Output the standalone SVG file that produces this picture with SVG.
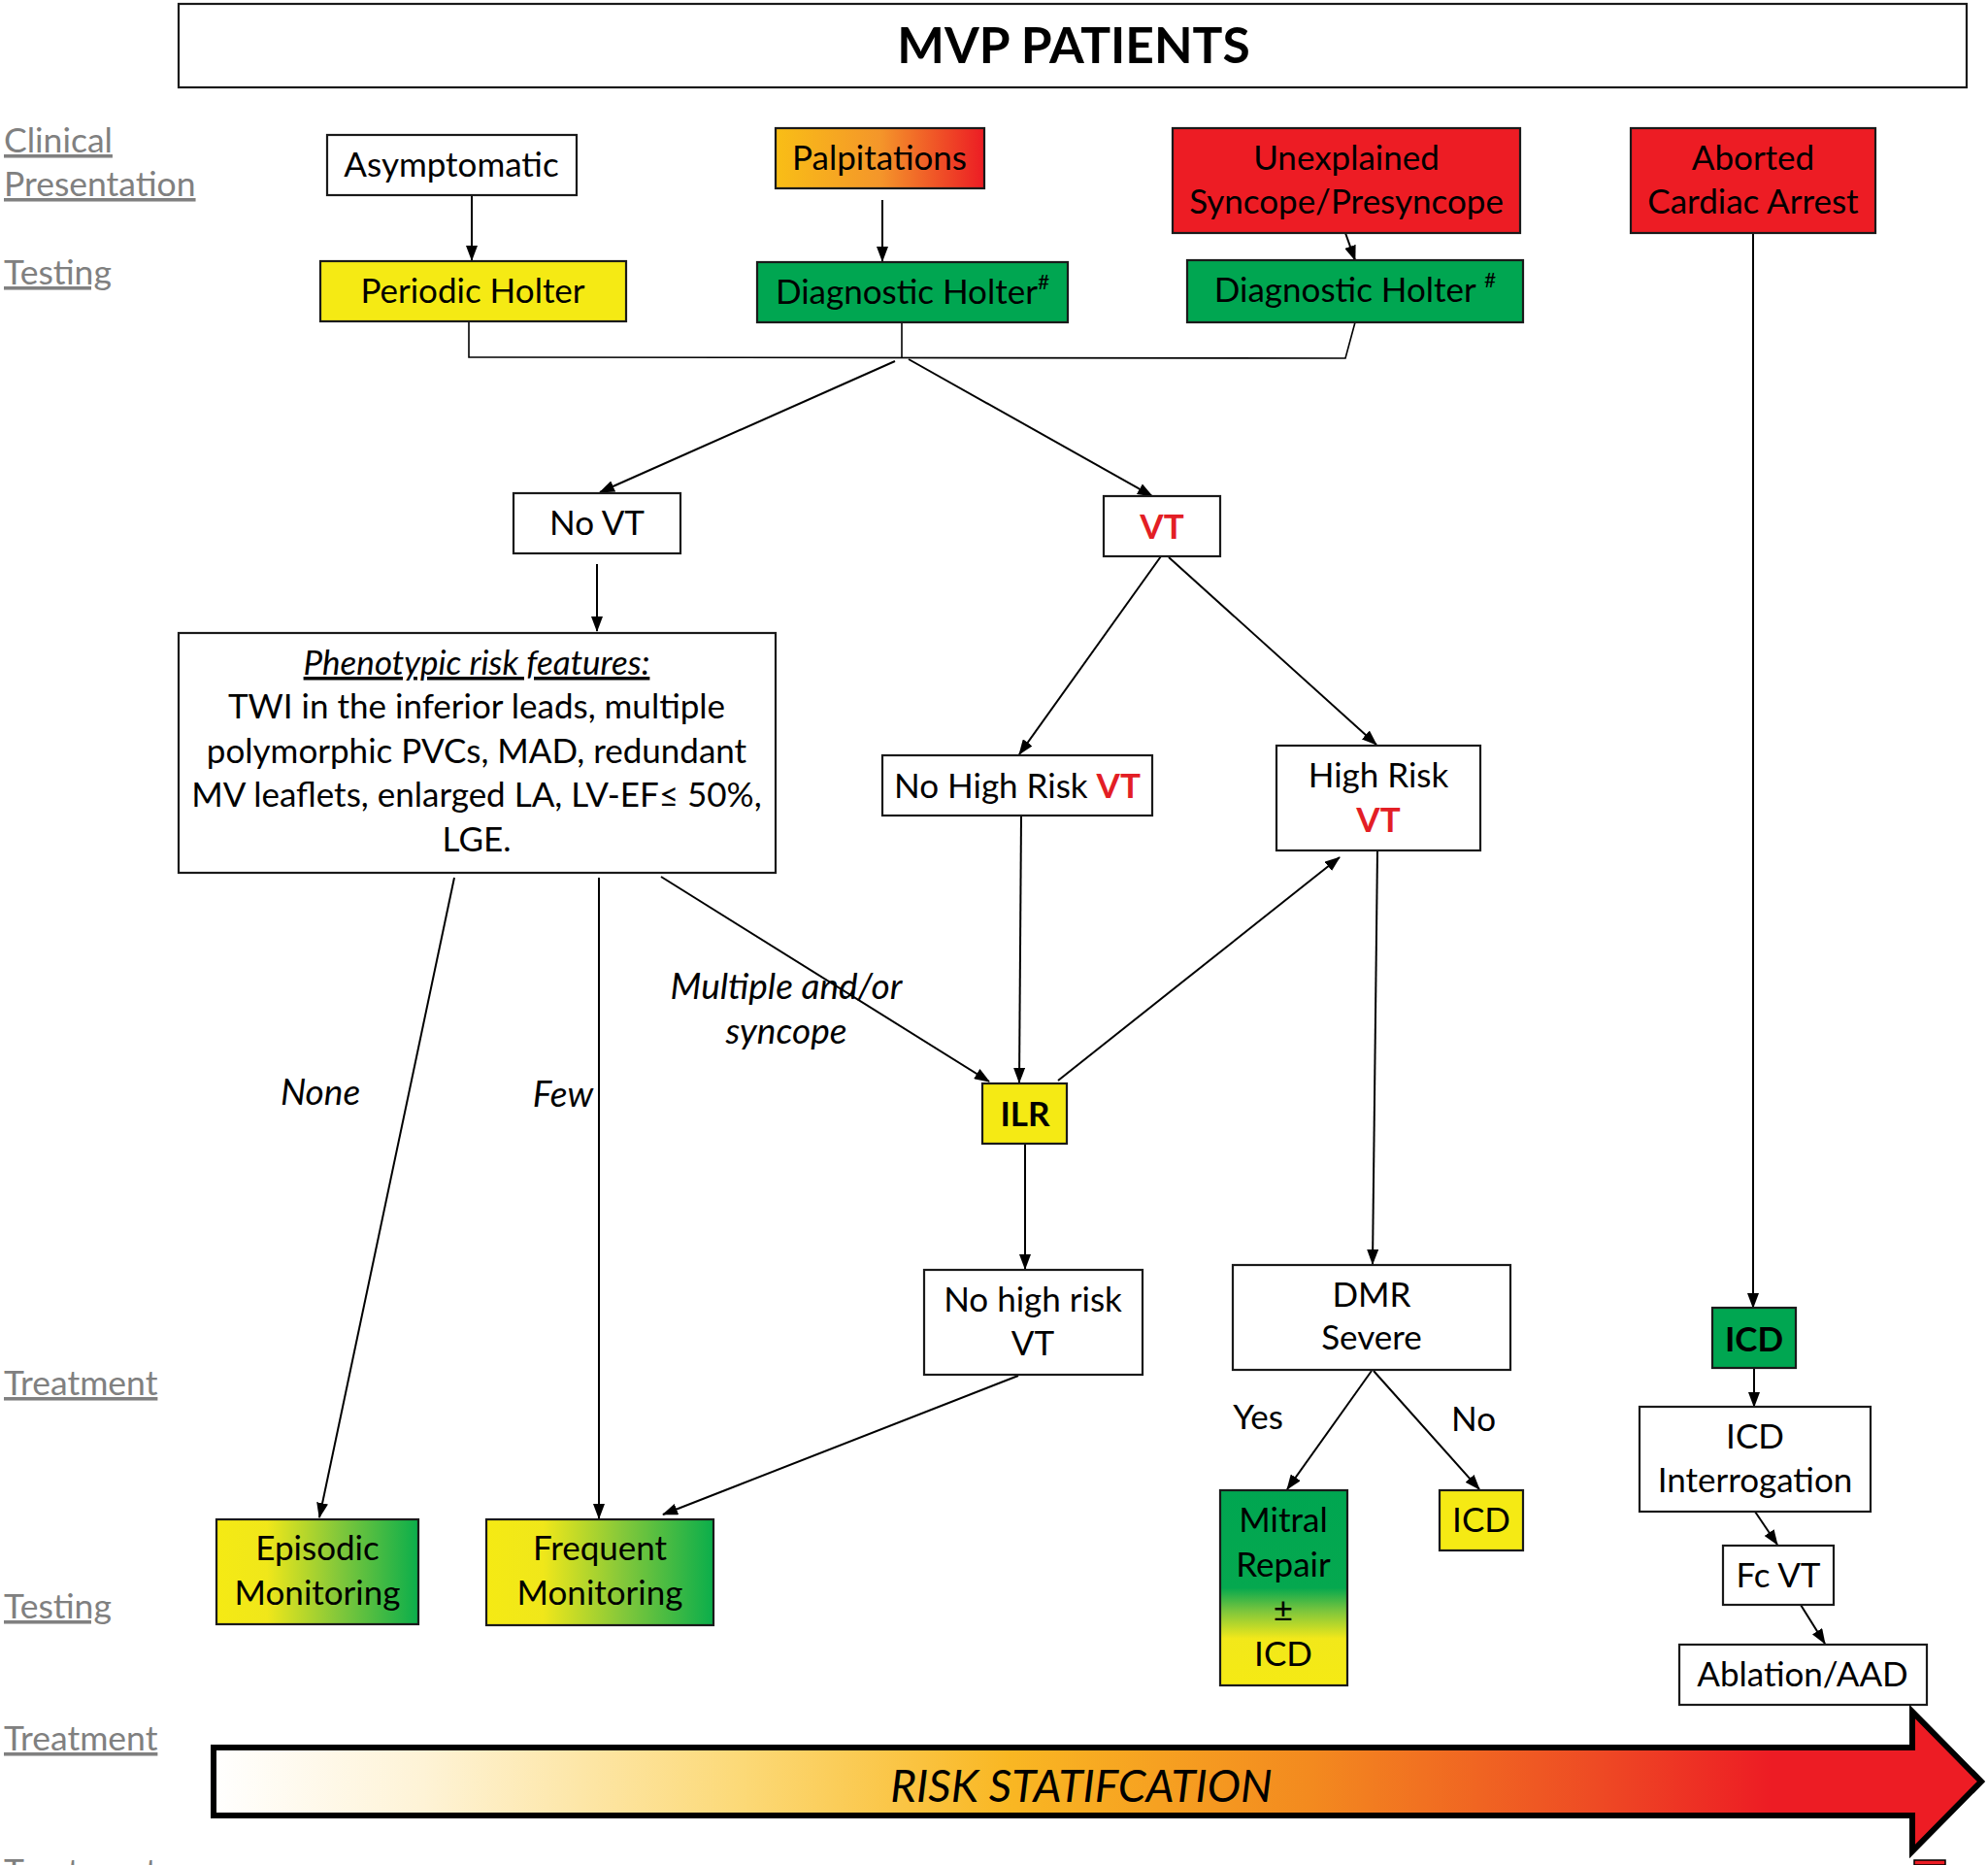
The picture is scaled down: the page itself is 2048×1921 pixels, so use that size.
<svg xmlns="http://www.w3.org/2000/svg" width="2048" height="1921" viewBox="0 0 2048 1921">
<style>
text{font-family:Lato,"Open Sans","Liberation Sans",sans-serif;fill:#000}
.n{font-size:35px;text-anchor:middle}
.el{font-size:37px;text-anchor:middle;font-style:italic}
.b{font-weight:bold}
.r{fill:#E31E25}
.it{font-style:italic}
.lab{font-size:35.5px;fill:#808080;text-decoration:underline}
.box{stroke:#1a1a1a;stroke-width:2.2}
.w{fill:#fff}
.y{fill:#F5EA14}
.g{fill:#00A651}
.red{fill:#ED1C24}
.c line,.c polyline{stroke:#000;stroke-width:2;fill:none}
.c .a{marker-end:url(#ah)}
</style>
<defs>
<marker id="ah" markerUnits="userSpaceOnUse" markerWidth="16" markerHeight="12" refX="15" refY="6" orient="auto">
<path d="M0,0 L16,6 L0,12 z" fill="#000"/>
</marker>
<linearGradient id="gPalp" x1="0" y1="0" x2="1" y2="0">
<stop offset="0" stop-color="#F9BE16"/><stop offset="0.5" stop-color="#F4962A"/><stop offset="1" stop-color="#EC1C24"/>
</linearGradient>
<linearGradient id="gMon" x1="0" y1="0" x2="1" y2="0">
<stop offset="0" stop-color="#F5EA14"/><stop offset="0.25" stop-color="#F0E71A"/><stop offset="0.6" stop-color="#84C83A"/><stop offset="1" stop-color="#0BAE4B"/>
</linearGradient>
<linearGradient id="gMit" x1="0" y1="0" x2="0" y2="1">
<stop offset="0" stop-color="#00A651"/><stop offset="0.5" stop-color="#05A84F"/><stop offset="0.62" stop-color="#7DC63C"/><stop offset="0.76" stop-color="#F2E81A"/><stop offset="1" stop-color="#F5EA14"/>
</linearGradient>
<linearGradient id="gRisk" x1="217" y1="0" x2="2044" y2="0" gradientUnits="userSpaceOnUse">
<stop offset="0" stop-color="#FFFFFF"/><stop offset="0.12" stop-color="#FEF3D6"/><stop offset="0.3" stop-color="#FCD977"/><stop offset="0.45" stop-color="#F9B723"/><stop offset="0.62" stop-color="#F38A1F"/><stop offset="0.78" stop-color="#EE4B24"/><stop offset="0.88" stop-color="#ED1C24"/><stop offset="1" stop-color="#ED1C24"/>
</linearGradient>
</defs>
<rect width="2048" height="1921" fill="#fff"/>

<g id="title">
<rect class="box w" x="184" y="4" width="1842" height="86"/>
<text x="1106" y="65" style="font-size:51.5px;font-weight:bold;text-anchor:middle">MVP PATIENTS</text>
</g>

<g id="row-labels">
<text class="lab" x="4" y="157">Clinical</text>
<text class="lab" x="4" y="202">Presentation</text>
<text class="lab" x="4" y="293">Testing</text>
<text class="lab" x="4" y="1437">Treatment</text>
<text class="lab" x="4" y="1667">Testing</text>
<text class="lab" x="4" y="1803">Treatment</text>
<text class="lab" x="4" y="1940">Treatment</text>
</g>

<g class="c" id="connectors">
<line class="a" x1="486" y1="201" x2="486" y2="268"/>
<line class="a" x1="909" y1="206" x2="909" y2="269"/>
<line class="a" x1="1386" y1="240" x2="1396" y2="268"/>
<polyline points="483,332 483,368 1386,369 1396,332" style="stroke-width:1.6"/>
<line x1="929" y1="332" x2="929" y2="369" style="stroke-width:1.6"/>
<line class="a" x1="922" y1="372" x2="618" y2="507"/>
<line class="a" x1="936" y1="370" x2="1187" y2="511"/>
<line class="a" x1="615" y1="581" x2="615" y2="650"/>
<line class="a" x1="1196" y1="573" x2="1050" y2="777"/>
<line class="a" x1="1204" y1="574" x2="1418" y2="767"/>
<line class="a" x1="1052" y1="840" x2="1050" y2="1115"/>
<line class="a" x1="1419" y1="876" x2="1414" y2="1302"/>
<line class="a" x1="1090" y1="1113" x2="1380" y2="883"/>
<line class="a" x1="681" y1="903" x2="1019" y2="1114"/>
<line class="a" x1="468" y1="904" x2="329" y2="1563"/>
<line class="a" x1="617" y1="904" x2="617" y2="1564"/>
<line class="a" x1="1056" y1="1178" x2="1056" y2="1307"/>
<line class="a" x1="1049" y1="1417" x2="683" y2="1560"/>
<line class="a" x1="1413" y1="1412" x2="1326" y2="1534"/>
<line class="a" x1="1415" y1="1412" x2="1524" y2="1534"/>
<line class="a" x1="1806" y1="240" x2="1806" y2="1347"/>
<line class="a" x1="1807" y1="1409" x2="1807" y2="1449"/>
<line class="a" x1="1808" y1="1557" x2="1831" y2="1591"/>
<line class="a" x1="1855" y1="1653" x2="1880" y2="1693"/>
</g>

<g id="edge-labels">
<text class="el" x="330" y="1138">None</text>
<text class="el" x="580" y="1140">Few</text>
<text class="el" x="810" y="1029">Multiple and/or</text>
<text class="el" x="810" y="1075">syncope</text>
<text class="n" x="1296" y="1472">Yes</text>
<text class="n" x="1518" y="1474">No</text>
</g>

<g id="asymptomatic"><rect class="box w" x="337" y="139" width="257" height="62"/><text class="n" x="465" y="182">Asymptomatic</text></g>
<g id="palpitations"><rect class="box" fill="url(#gPalp)" x="799" y="132" width="215" height="62"/><text class="n" x="906" y="175">Palpitations</text></g>
<g id="syncope"><rect class="box red" x="1208" y="132" width="358" height="108"/><text class="n" x="1387" y="175">Unexplained</text><text class="n" x="1387" y="220">Syncope/Presyncope</text></g>
<g id="arrest"><rect class="box red" x="1680" y="132" width="252" height="108"/><text class="n" x="1806" y="175">Aborted</text><text class="n" x="1806" y="220">Cardiac Arrest</text></g>

<g id="periodic-holter"><rect class="box y" x="330" y="269" width="315" height="62"/><text class="n" x="487" y="312">Periodic Holter</text></g>
<g id="diag-holter-1"><rect class="box g" x="780" y="270" width="320" height="62"/><text class="n" x="940" y="313">Diagnostic Holter<tspan style="font-size:21px" dy="-15">#</tspan></text></g>
<g id="diag-holter-2"><rect class="box g" x="1223" y="268" width="346" height="64"/><text class="n" x="1396" y="311">Diagnostic Holter <tspan style="font-size:21px" dy="-15">#</tspan></text></g>

<g id="no-vt"><rect class="box w" x="529" y="508" width="172" height="62"/><text class="n" x="615" y="551">No VT</text></g>
<g id="vt"><rect class="box w" x="1137" y="511" width="120" height="62"/><text class="n b r" x="1197" y="555">VT</text></g>

<g id="phenotypic">
<rect class="box w" x="184" y="652" width="615" height="247"/>
<text class="n it" x="491" y="695" style="text-decoration:underline">Phenotypic risk features:</text>
<text class="n" x="491" y="740">TWI in the inferior leads, multiple</text>
<text class="n" x="491" y="786">polymorphic PVCs, MAD, redundant</text>
<text class="n" x="491" y="831">MV leaflets, enlarged LA, LV-EF≤ 50%,</text>
<text class="n" x="491" y="877">LGE.</text>
</g>

<g id="no-high-risk-vt"><rect class="box w" x="909" y="778" width="278" height="62"/><text class="n" x="1048" y="822">No High Risk <tspan class="b r">VT</tspan></text></g>
<g id="high-risk-vt"><rect class="box w" x="1315" y="768" width="210" height="108"/><text class="n" x="1420" y="811">High Risk</text><text class="n b r" x="1420" y="857">VT</text></g>

<g id="ilr"><rect class="box y" x="1012" y="1116" width="87" height="62"/><text class="n b" x="1056" y="1160">ILR</text></g>
<g id="no-high-risk-vt-2"><rect class="box w" x="952" y="1308" width="225" height="108"/><text class="n" x="1064" y="1351">No high risk</text><text class="n" x="1064" y="1396">VT</text></g>
<g id="dmr"><rect class="box w" x="1270" y="1303" width="286" height="108"/><text class="n" x="1413" y="1346">DMR</text><text class="n" x="1413" y="1390">Severe</text></g>
<g id="icd-green"><rect class="box g" x="1764" y="1347" width="86" height="62"/><text class="n b" x="1807" y="1392">ICD</text></g>
<g id="icd-interrogation"><rect class="box w" x="1689" y="1449" width="238" height="108"/><text class="n" x="1808" y="1492">ICD</text><text class="n" x="1808" y="1537">Interrogation</text></g>
<g id="fc-vt"><rect class="box w" x="1775" y="1592" width="114" height="61"/><text class="n" x="1832" y="1635">Fc VT</text></g>
<g id="ablation"><rect class="box w" x="1730" y="1694" width="255" height="62"/><text class="n" x="1857" y="1737">Ablation/AAD</text></g>

<g id="mitral"><rect class="box" fill="url(#gMit)" x="1257" y="1535" width="131" height="201"/><text class="n" x="1322" y="1578">Mitral</text><text class="n" x="1322" y="1624">Repair</text><text class="n" x="1322" y="1670">±</text><text class="n" x="1322" y="1716">ICD</text></g>
<g id="icd-yellow"><rect class="box y" x="1483" y="1535" width="86" height="62"/><text class="n" x="1526" y="1578">ICD</text></g>

<g id="episodic"><rect class="box" fill="url(#gMon)" x="223" y="1565" width="208" height="108"/><text class="n" x="327" y="1607">Episodic</text><text class="n" x="327" y="1653">Monitoring</text></g>
<g id="frequent"><rect class="box" fill="url(#gMon)" x="501" y="1565" width="234" height="109"/><text class="n" x="618" y="1607">Frequent</text><text class="n" x="618" y="1653">Monitoring</text></g>

<g id="risk-arrow">
<polygon points="220,1800 1970,1800 1970,1763 2041,1835 1970,1907 1970,1870 220,1870" fill="url(#gRisk)" stroke="#000" stroke-width="6" stroke-linejoin="miter"/>
<text x="1114" y="1856" style="font-size:46px;font-style:italic;text-anchor:middle">RISK STATIFCATION</text>
<rect x="1972" y="1916" width="32" height="5" fill="#ED1C24" stroke="#000" stroke-width="1.5"/>
</g>
</svg>
